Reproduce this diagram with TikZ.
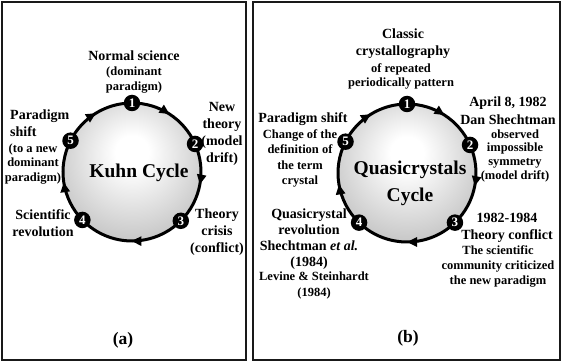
\documentclass[tikz,border=0pt]{standalone}
\usepackage{fontspec}
\setmainfont{Liberation Serif}
\usetikzlibrary{arrows.meta,decorations.markings}
\pgfdeclareradialshading{cycball}{\pgfpoint{0bp}{8bp}}{color(0bp)=(white); color(6bp)=(white); color(50bp)=(black!42); color(60bp)=(black!45)}
\tikzset{
  panel/.style={draw=black!90, line width=2.2pt},
  big/.style={font=\bfseries\fontsize{14}{17}\selectfont, align=center, inner sep=0pt},
  small/.style={font=\bfseries\fontsize{12.5}{15}\selectfont, align=center, inner sep=0pt},
  cyctitle/.style={font=\bfseries\fontsize{19.5}{27}\selectfont, align=center, inner sep=0pt},
  tag/.style={font=\bfseries\fontsize{17.5}{17}\selectfont, inner sep=0pt, anchor=base},
  num/.style={circle, fill=black, text=white, inner sep=0pt, minimum size=16.5pt,
    font=\bfseries\fontsize{13}{13}\selectfont},
  cycarc/.style={line width=3pt, postaction={decorate},
    decoration={markings, mark=at position 0.5 with {\arrow{Triangle[length=10pt,width=9pt]}}}},
}
\begin{document}
\begin{tikzpicture}[x=1pt,y=1pt]
  \useasboundingbox[fill=white] (0,0) rectangle (562,362);
  % Frames of the two panels
  \draw[panel] (2,2) rectangle (246,360);
  \draw[panel] (253,2) rectangle (560,360);

  % (a) Kuhn cycle
  \coordinate (kc) at (132,190);
  \shade[shading=cycball] (kc) circle (69);
  \foreach \i/\a in {1/90,2/24,3/-45,4/224,5/153}
    \coordinate (kp\i) at ([shift={(\a:69)}]kc);
  \foreach \s/\a/\b in {1/90/24, 2/24/-45, 3/-45/-136, 4/224/153, 5/153/90}
    \draw[cycarc] (kp\s) arc[start angle=\a, end angle=\b, radius=69];
  \foreach \i in {1,...,5}
    \node[num] (k\i) at (kp\i) {\i};
  \node[cyctitle, anchor=base] (ktitle) at (139,185) {Kuhn Cycle};
  \node[big, anchor=north] (k1t) at (134,311.7) {Normal science};
  \node[small, anchor=north] (k1s) at (134,295.6) {(dominant\\paradigm)};
  \node[big, anchor=north] (k2t) at (222,259.7) {New\\theory\\(model\\drift)};
  \node[big, anchor=north] (k3t) at (217,153.7) {Theory\\crisis\\(conflict)};
  \node[big, anchor=north] (k4t) at (43,152.7) {Scientific\\revolution};
  \node[big, align=left, anchor=north west] (k5t) at (10,252.7) {Paradigm\\shift};
  \node[small, anchor=north, font=\bfseries\fontsize{12.5}{14.5}\selectfont] (k5s) at (33,218.6) {(to a new\\dominant\\paradigm)};
  \node[tag] (ka) at (123,18) {(a)};

  % (b) Quasicrystals cycle
  \coordinate (qc) at (407,189);
  \shade[shading=cycball] (qc) circle (69);
  \foreach \i/\a in {1/90,2/24,3/-46,4/226,5/153}
    \coordinate (qp\i) at ([shift={(\a:69)}]qc);
  \foreach \s/\a/\b in {1/90/24, 2/24/-46, 3/-46/-134, 4/226/153, 5/153/90}
    \draw[cycarc] (qp\s) arc[start angle=\a, end angle=\b, radius=69];
  \foreach \i in {1,...,5}
    \node[num] (q\i) at (qp\i) {\i};
  \node[cyctitle, anchor=north] (qtitle) at (410,201) {Quasicrystals\\Cycle};
  \node[big, anchor=north] (q1t) at (403,333.7) {Classic\\crystallography};
  \node[small, anchor=north, font=\bfseries\fontsize{12.5}{14}\selectfont] (q1s) at (401,298.6) {of repeated\\periodically pattern};
  \node[big, anchor=north, font=\bfseries\fontsize{14}{18}\selectfont] (q2t) at (508,265.7) {April 8, 1982\\Dan Shechtman};
  \node[small, anchor=north, font=\bfseries\fontsize{12.5}{13.7}\selectfont] (q2s) at (515,232.6) {observed\\impossible\\symmetry\\(model drift)};
  \node[big, anchor=north] (q3t) at (507,148.7) {1982-1984\\Theory conflict};
  \node[small, anchor=north] (q3s) at (498,116.6) {The scientific\\community criticized\\the new paradigm};
  \node[big, anchor=north, font=\bfseries\fontsize{14}{16}\selectfont] (q4t) at (309,153.7) {Quasicrystal\\revolution\\Shechtman \textit{et al.}\\(1984)};
  \node[small, anchor=north, font=\bfseries\fontsize{12.5}{16}\selectfont] (q4s) at (314,90.6) {Levine \& Steinhardt\\(1984)};
  \node[big, anchor=base] (q5t) at (303,239) {Paradigm shift};
  \node[small, anchor=north, font=\bfseries\fontsize{12.5}{15.3}\selectfont] (q5s) at (300,232.6) {Change of the\\definition of\\the term\\crystal};
  \node[tag] (qb) at (408,20) {(b)};
\end{tikzpicture}
\end{document}
